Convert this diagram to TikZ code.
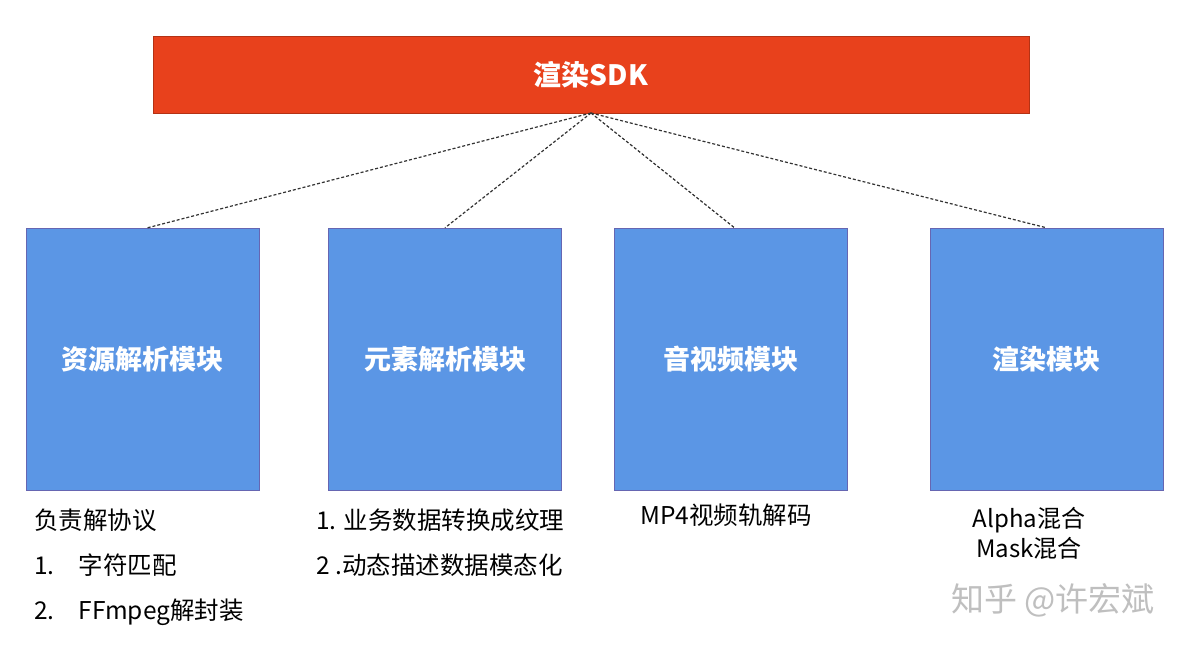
\documentclass[tikz,border=0pt]{standalone}
\usepackage{fontspec}
\setmainfont{Noto Sans CJK SC}
\begin{document}
\begin{tikzpicture}[x=1pt,y=-1pt,
  modbox/.style={draw=blue!50!black!60, fill={rgb,255:red,91;green,150;blue,229}, minimum width=233pt, minimum height=262pt, inner sep=0pt, font=\fontsize{27}{30}\selectfont\bfseries, text=white},
  conn/.style={densely dashed, line width=1.2pt, black!80},
  note/.style={anchor=north west, font=\fontsize{24.5}{45}\selectfont, align=left, inner sep=0pt}]
\useasboundingbox (0,0) rectangle (1192,646);
\node[draw={rgb,255:red,180;green,50;blue,20}, fill={rgb,255:red,232;green,65;blue,28}, minimum width=876pt, minimum height=77pt, inner sep=0pt, text=white, font=\fontsize{28}{32}\selectfont\bfseries] (sdk) at (591,74.5) {渲染SDK};
\node[modbox] (m1) at (142.5,359) {资源解析模块};
\node[modbox] (m2) at (445,359) {元素解析模块};
\node[modbox] (m3) at (730.5,359) {音视频模块};
\node[modbox] (m4) at (1046.5,359) {渲染模块};
\coordinate (s) at (591,113);
\draw[conn] (s) -- ([xshift=5pt]m1.north);
\draw[conn] (s) -- (m2.north);
\draw[conn] (s) -- ([xshift=4pt]m3.north);
\draw[conn] (s) -- (m4.north);
\node[note] (t1) at (34,509) {负责解协议\\1.\hspace{24pt}字符匹配\\2.\hspace{24pt}FFmpeg解封装};
\node[note] (t2) at (316,509) {1. 业务数据转换成纹理\\2 .动态描述数据模态化};
\node[note] (t3) at (640,504) {MP4视频轨解码};
\node[font=\fontsize{24}{30}\selectfont, align=center, inner sep=0pt] (t4) at (1029,533) {Alpha混合\\Mask混合};
\node[font=\fontsize{33}{36}\selectfont, text=black!25, inner sep=0pt] (wm) at (1053,600) {知乎 @许宏斌};
\end{tikzpicture}
\end{document}
